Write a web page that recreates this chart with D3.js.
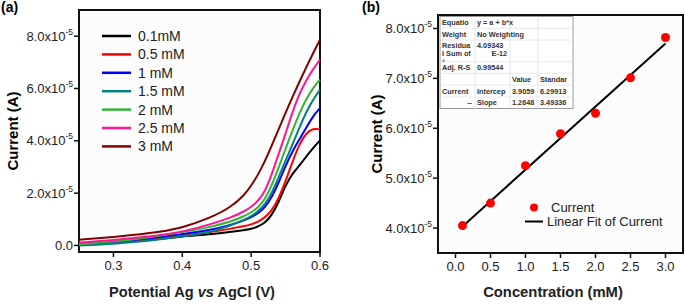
<!DOCTYPE html>
<html>
<head>
<meta charset="utf-8">
<script src="https://cdn.jsdelivr.net/npm/d3@7"></script>
<style>
  body { margin: 0; background: #fff; }
  svg { display: block; font-family: Arial, "Liberation Sans", sans-serif; }
</style>
</head>
<body>
<div id="chart"></div>
<script>
// ---- panel (a): LSV curves, current in units of 1e-5 A ----
const potential = [0.25, 0.30, 0.35, 0.40, 0.44, 0.47, 0.49, 0.50, 0.51, 0.52, 0.53, 0.54, 0.55, 0.56, 0.57, 0.58, 0.59, 0.60];
const cur01 = [0.05, 0.10, 0.20, 0.35, 0.42, 0.52, 0.58, 0.63, 0.72, 0.86, 1.15, 1.66, 2.30, 2.75, 3.05, 3.40, 3.72, 4.02];
const cur05 = [0.05, 0.10, 0.22, 0.38, 0.50, 0.64, 0.74, 0.80, 0.90, 1.07, 1.32, 1.80, 2.45, 3.20, 3.88, 4.30, 4.48, 4.44];
const cur1  = [0.05, 0.12, 0.26, 0.44, 0.58, 0.78, 0.96, 1.08, 1.23, 1.45, 1.85, 2.40, 3.05, 3.60, 4.05, 4.50, 4.95, 5.25];
const cur15 = [0.00, 0.06, 0.17, 0.34, 0.50, 0.76, 0.98, 1.12, 1.30, 1.56, 2.00, 2.60, 3.25, 3.85, 4.50, 5.10, 5.58, 5.95];
const cur2  = [0.05, 0.14, 0.30, 0.50, 0.70, 0.90, 1.12, 1.26, 1.45, 1.75, 2.30, 2.98, 3.70, 4.40, 5.05, 5.60, 6.02, 6.34];
const cur25 = [0.11, 0.20, 0.33, 0.51, 0.80, 1.06, 1.30, 1.47, 1.70, 2.05, 2.72, 3.50, 4.28, 5.10, 5.80, 6.30, 6.75, 7.10];
const cur3  = [0.22, 0.32, 0.45, 0.66, 1.05, 1.45, 1.92, 2.28, 2.70, 3.22, 3.82, 4.45, 5.07, 5.67, 6.25, 6.81, 7.35, 7.87];
const seriesNames = ['0.1mM', '0.5 mM', '1 mM', '1.5 mM', '2 mM', '2.5 mM', '3 mM'];
const seriesValues = [cur01, cur05, cur1, cur15, cur2, cur25, cur3];
const xTicksA = [0.3, 0.4, 0.5, 0.6];
const yTicksA = [0, 2, 4, 6, 8];

// ---- panel (b): calibration, current in units of 1e-5 A ----
const concentration = [0.1, 0.5, 1.0, 1.5, 2.0, 2.5, 3.0];
const currentB = [4.05, 4.50, 5.25, 5.89, 6.30, 7.01, 7.82];
const fitIntercept = 3.9059;
const fitSlope = 1.2648;
const xTicksB = [0.0, 0.5, 1.0, 1.5, 2.0, 2.5, 3.0];
const yTicksB = [4, 5, 6, 7, 8];
const fitTable = [
  ['Equatio', 'y = a + b*x', '', ''],
  ['Weight', 'No Weighting', '', ''],
  ['Residua\nl Sum of\n^', '4.09343\nE-12', '', ''],
  ['Adj. R-S', '0.99544', '', ''],
  ['', '', 'Value', 'Standar'],
  ['Current', 'Intercep', '3.9059', '6.29913'],
  ['--', 'Slope', '1.2648', '3.49336']
];

const colors = ['#000000', '#ff0000', '#0000ff', '#008080', '#33b533', '#ff1493', '#800000'];

const svg = d3.select('#chart').append('svg')
  .attr('width', 685)
  .attr('height', 304);

function sciLabel(sel, v, fixed) {
  if (v === 0) { sel.text('0.0'); return; }
  sel.append('tspan').text(v.toFixed(fixed) + 'x10');
  sel.append('tspan').attr('dy', -6).style('font-size', '8.5px').text('-5');
}

function drawFrame(x0, x1, y0, y1) {
  svg.append('rect')
    .attr('x', x0).attr('y', y0)
    .attr('width', x1 - x0).attr('height', y1 - y0)
    .attr('fill', '#fcfcfc')
    .attr('stroke', '#111').attr('stroke-width', 2);
}

// ================= panel (a) =================
const xA = d3.scaleLinear().domain([0.25, 0.6]).range([79, 320]);
const yA = d3.scaleLinear().domain([-0.25, 9.0]).range([252, 10]);

drawFrame(79, 320, 10, 252);

svg.append('g').selectAll('line').data(xTicksA).join('line')
  .attr('x1', d => xA(d)).attr('x2', d => xA(d))
  .attr('y1', 252).attr('y2', 257)
  .attr('stroke', '#111').attr('stroke-width', 1.5);
svg.append('g').selectAll('text').data(xTicksA).join('text')
  .attr('x', d => xA(d)).attr('y', 270)
  .attr('text-anchor', 'middle')
  .style('font-size', '13px').attr('fill', '#222')
  .text(d => d.toFixed(1));

svg.append('g').selectAll('line').data(yTicksA).join('line')
  .attr('x1', 74).attr('x2', 79)
  .attr('y1', d => yA(d)).attr('y2', d => yA(d))
  .attr('stroke', '#111').attr('stroke-width', 1.5);
svg.append('g').selectAll('text').data(yTicksA).join('text')
  .attr('x', 73).attr('y', d => yA(d) + 4.5)
  .attr('text-anchor', 'end')
  .style('font-size', '13px').attr('fill', '#222')
  .each(function (d) { sciLabel(d3.select(this), d, 1); });

// curves (smoothed spline through the read-off points)
const lineA = d3.line()
  .x((d, i) => xA(potential[i]))
  .y(d => yA(d))
  .curve(d3.curveBasis);

svg.append('g').selectAll('path').data(seriesValues).join('path')
  .attr('d', d => lineA(d))
  .attr('fill', 'none')
  .attr('stroke', (d, i) => colors[i])
  .attr('stroke-width', 2);

// legend
const legA = svg.append('g');
seriesNames.forEach((name, i) => {
  const y = 36 + i * 18.4;
  legA.append('line')
    .attr('x1', 102).attr('x2', 131).attr('y1', y).attr('y2', y)
    .attr('stroke', colors[i]).attr('stroke-width', 2.5);
  legA.append('text')
    .attr('x', 138).attr('y', y + 5)
    .style('font-size', '14px').attr('fill', '#222')
    .text(name);
});

// titles
svg.append('text').attr('x', 1).attr('y', 12)
  .style('font-size', '14px').style('font-weight', 'bold').text('(a)');
svg.append('text')
  .attr('transform', 'translate(18,131) rotate(-90)')
  .attr('text-anchor', 'middle')
  .style('font-size', '15px').style('font-weight', 'bold')
  .text('Current (A)');
const xtA = svg.append('text')
  .attr('x', 192).attr('y', 297)
  .attr('text-anchor', 'middle')
  .style('font-size', '14.6px').style('font-weight', 'bold').attr('fill', '#222');
xtA.append('tspan').text('Potential Ag ');
xtA.append('tspan').style('font-style', 'italic').text('vs');
xtA.append('tspan').text(' AgCl (V)');

// ================= panel (b) =================
const xB = d3.scaleLinear().domain([-0.25, 3.25]).range([438, 683]);
const yB = d3.scaleLinear().domain([3.5, 8.27]).range([253, 15]);

drawFrame(438, 683, 15, 253);

svg.append('g').selectAll('line').data(xTicksB).join('line')
  .attr('x1', d => xB(d)).attr('x2', d => xB(d))
  .attr('y1', 253).attr('y2', 258)
  .attr('stroke', '#111').attr('stroke-width', 1.5);
svg.append('g').selectAll('text').data(xTicksB).join('text')
  .attr('x', d => xB(d)).attr('y', 271)
  .attr('text-anchor', 'middle')
  .style('font-size', '13px').attr('fill', '#222')
  .text(d => d.toFixed(1));

svg.append('g').selectAll('line').data(yTicksB).join('line')
  .attr('x1', 433).attr('x2', 438)
  .attr('y1', d => yB(d)).attr('y2', d => yB(d))
  .attr('stroke', '#111').attr('stroke-width', 1.5);
svg.append('g').selectAll('text').data(yTicksB).join('text')
  .attr('x', 432).attr('y', d => yB(d) + 4.5)
  .attr('text-anchor', 'end')
  .style('font-size', '13px').attr('fill', '#222')
  .each(function (d) { sciLabel(d3.select(this), d, 1); });

// linear fit
const fitEnds = [concentration[0], concentration[concentration.length - 1]];
svg.append('line')
  .attr('x1', xB(fitEnds[0])).attr('y1', yB(fitIntercept + fitSlope * fitEnds[0]))
  .attr('x2', xB(fitEnds[1])).attr('y2', yB(fitIntercept + fitSlope * fitEnds[1]))
  .attr('stroke', '#000').attr('stroke-width', 2);

svg.append('g').selectAll('circle').data(concentration).join('circle')
  .attr('cx', d => xB(d))
  .attr('cy', (d, i) => yB(currentB[i]))
  .attr('r', 4.5)
  .attr('fill', '#ff0000');

// legend (b)
svg.append('circle').attr('cx', 534).attr('cy', 207.5).attr('r', 4).attr('fill', '#ff0000');
svg.append('text').attr('x', 551).attr('y', 212)
  .style('font-size', '13px').attr('fill', '#222').text('Current');
svg.append('line').attr('x1', 525).attr('x2', 543).attr('y1', 221.5).attr('y2', 221.5)
  .attr('stroke', '#000').attr('stroke-width', 2);
svg.append('text').attr('x', 547).attr('y', 226)
  .style('font-size', '13px').attr('fill', '#222').text('Linear Fit of Current');

// fit table
const colX = [440, 475, 510, 538, 573];
const rowY = [16.5, 28.3, 40, 61.7, 73.3, 85, 97, 108.5];
const tbl = svg.append('g');
tbl.append('rect')
  .attr('x', colX[0]).attr('y', rowY[0])
  .attr('width', colX[4] - colX[0]).attr('height', rowY[7] - rowY[0])
  .attr('fill', '#fff').attr('stroke', '#999').attr('stroke-width', 1);
rowY.slice(1, 7).forEach(y => {
  tbl.append('line').attr('x1', colX[0]).attr('x2', colX[4])
    .attr('y1', y).attr('y2', y).attr('stroke', '#e2e2e2').attr('stroke-width', 0.8);
});
colX.slice(1, 4).forEach(x => {
  tbl.append('line').attr('x1', x).attr('x2', x)
    .attr('y1', rowY[0]).attr('y2', rowY[7]).attr('stroke', '#e2e2e2').attr('stroke-width', 0.8);
});
fitTable.forEach((row, r) => {
  row.forEach((cell, c) => {
    if (!cell) return;
    const lines = cell.split('\n');
    const top = rowY[r], h = rowY[r + 1] - rowY[r];
    lines.forEach((ln, k) => {
      const right = ln === '--' || ln === 'E-12';
      const y = lines.length === 1 ? top + h / 2 + 2.6 : top + 8 + k * 7.6;
      tbl.append('text')
        .attr('x', right ? colX[c + 1] - 3 : colX[c] + 2)
        .attr('y', y)
        .attr('text-anchor', right ? 'end' : 'start')
        .style('font-size', ln === '^' ? '5px' : '7.3px')
        .style('font-weight', 'bold').attr('fill', '#333')
        .text(ln);
    });
  });
});

svg.append('text').attr('x', 362).attr('y', 12)
  .style('font-size', '14px').style('font-weight', 'bold').text('(b)');
svg.append('text')
  .attr('transform', 'translate(382,134) rotate(-90)')
  .attr('text-anchor', 'middle')
  .style('font-size', '15px').style('font-weight', 'bold')
  .text('Current (A)');
svg.append('text')
  .attr('x', 553).attr('y', 297)
  .attr('text-anchor', 'middle')
  .style('font-size', '14.8px').style('font-weight', 'bold').attr('fill', '#222')
  .text('Concentration (mM)');
</script>
</body>
</html>
